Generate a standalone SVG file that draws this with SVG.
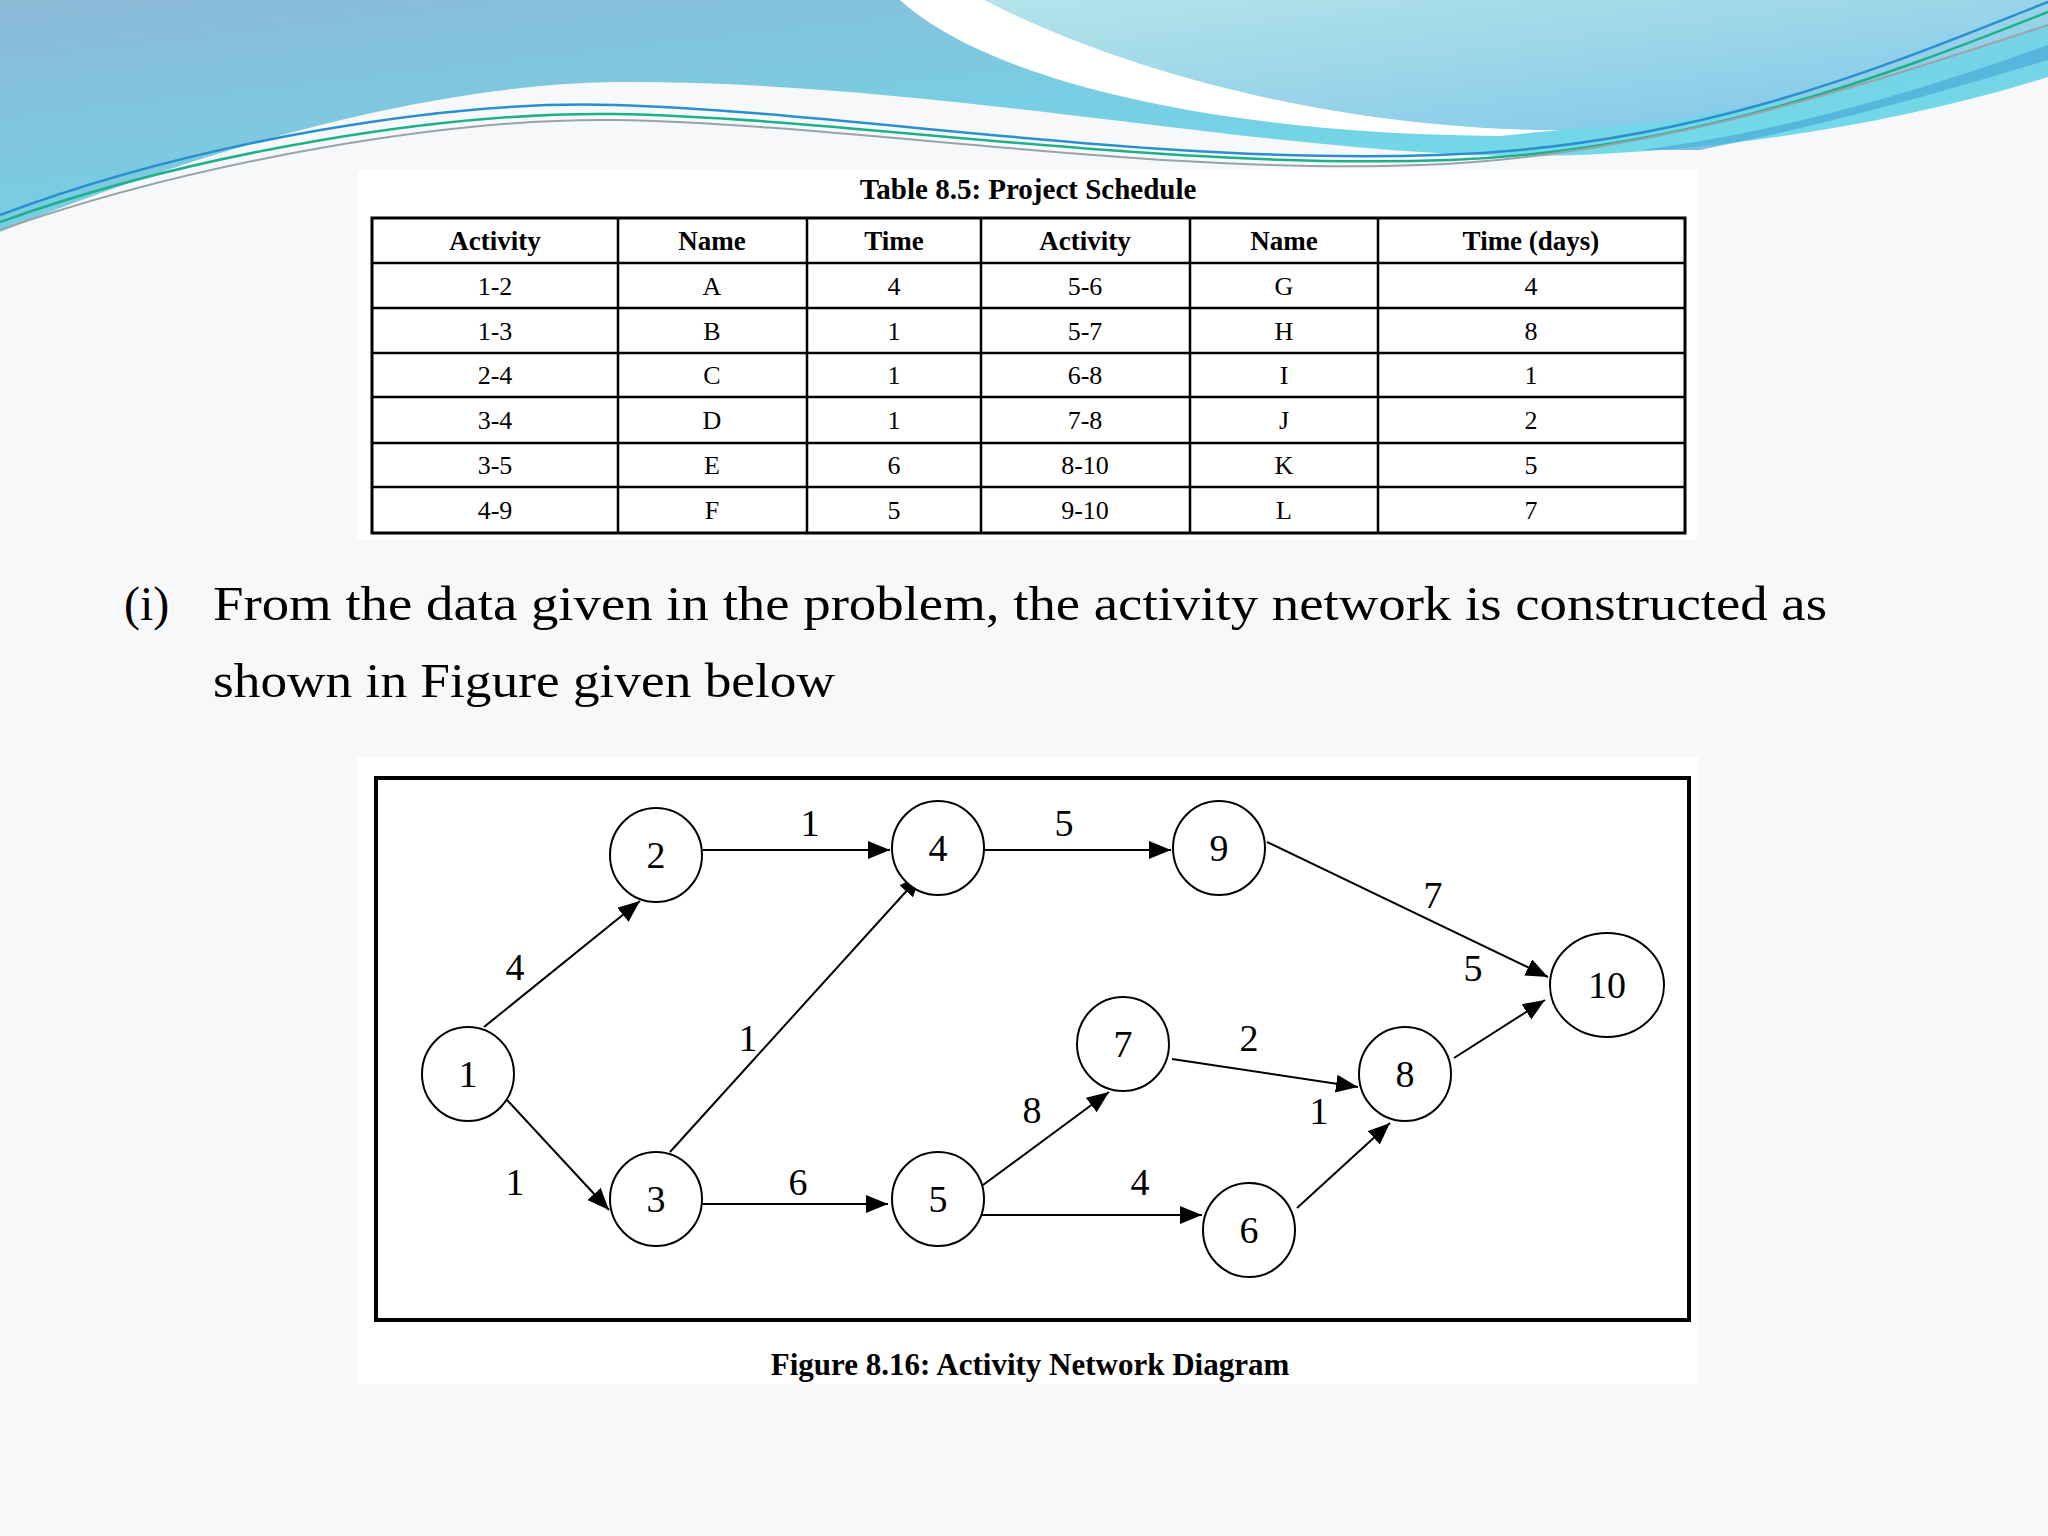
<svg xmlns="http://www.w3.org/2000/svg" width="2048" height="1536" viewBox="0 0 2048 1536">
<defs>
<linearGradient id="gb" x1="0" y1="0" x2="1" y2="1"><stop offset="0" stop-color="#8bb9d6"/><stop offset="0.6" stop-color="#74d3e6"/><stop offset="1" stop-color="#6ee6ee"/></linearGradient>
<linearGradient id="gl" x1="0" y1="0" x2="1" y2="1"><stop offset="0" stop-color="#b4e4ea"/><stop offset="1" stop-color="#7ec6e8"/></linearGradient>
<marker id="ah" markerUnits="userSpaceOnUse" markerWidth="24" markerHeight="20" refX="22" refY="9" orient="auto"><path d="M0,0 L22,9 L0,18 Z" fill="#000"/></marker>
</defs>
<style>
.t{font-family:"Liberation Serif",serif;fill:#000}
.c{font-size:26px;text-anchor:middle}
.h{font-size:27px;font-weight:bold;text-anchor:middle}
.n{fill:#fff;stroke:#000;stroke-width:2}
.nl{font-size:38px;text-anchor:middle;dominant-baseline:central}
.e{stroke:#000;stroke-width:2;fill:none;marker-end:url(#ah)}
.g{stroke:#000;stroke-width:2.5}
</style>
<rect width="2048" height="1536" fill="#f6f8f9"/>
<path d="M0,0 H2048 V77 C1850,140 1600,165 1437,153 C1200,140 900,80 614,82 C400,85 150,170 0,232 Z" fill="url(#gb)"/>
<path d="M900,0 C1000,90 1250,135 1500,136 L1560,130 C1300,125 1100,60 985,0 Z" fill="#ffffff"/>
<path d="M985,0 H2048 V25 C1900,80 1700,128 1540,130 C1300,125 1100,60 985,0 Z" fill="url(#gl)"/>
<path d="M2048,45 C1950,80 1800,130 1640,150 L1700,150 C1850,120 1980,80 2048,60 Z" fill="#4aa9d8" opacity="0.7"/>
<path d="M0,215 C200,140 450,100 614,105 C850,112 1150,165 1437,155 C1700,148 1900,60 2048,2" stroke="#2a8fcf" stroke-width="2.5" fill="none"/>
<path d="M0,222 C200,150 450,112 614,114 C850,118 1150,170 1450,160 C1700,150 1900,70 2048,12" stroke="#1fb08a" stroke-width="2.5" fill="none"/>
<path d="M0,230 C200,160 450,118 614,120 C850,124 1150,175 1420,165 C1650,158 1880,80 2048,25" stroke="#9aa3a8" stroke-width="2" fill="none"/>
<rect x="357" y="170" width="1340" height="370" fill="#fff"/>
<rect x="357" y="757" width="1341" height="627" fill="#fff"/>
<text class="t" x="1028" y="199" font-size="29" font-weight="bold" text-anchor="middle">Table 8.5: Project Schedule</text>
<g id="table">
<rect x="372" y="218" width="1313" height="315" fill="none" stroke="#000" stroke-width="3"/>
<line class="g" x1="372" y1="263" x2="1685" y2="263" stroke-width="5"/>
<line class="g" x1="372" y1="308" x2="1685" y2="308"/>
<line class="g" x1="372" y1="353" x2="1685" y2="353"/>
<line class="g" x1="372" y1="397" x2="1685" y2="397"/>
<line class="g" x1="372" y1="443" x2="1685" y2="443"/>
<line class="g" x1="372" y1="487" x2="1685" y2="487"/>
<line class="g" x1="618" y1="218" x2="618" y2="533"/>
<line class="g" x1="807" y1="218" x2="807" y2="533"/>
<line class="g" x1="981" y1="218" x2="981" y2="533"/>
<line class="g" x1="1190" y1="218" x2="1190" y2="533"/>
<line class="g" x1="1378" y1="218" x2="1378" y2="533"/>
<g class="t h"><text x="495" y="250">Activity</text><text x="712" y="250">Name</text><text x="894" y="250">Time</text><text x="1085" y="250">Activity</text><text x="1284" y="250">Name</text><text x="1531" y="250">Time (days)</text></g>
<g class="t c">
<text x="495" y="295">1-2</text><text x="712" y="295">A</text><text x="894" y="295">4</text><text x="1085" y="295">5-6</text><text x="1284" y="295">G</text><text x="1531" y="295">4</text>
<text x="495" y="340">1-3</text><text x="712" y="340">B</text><text x="894" y="340">1</text><text x="1085" y="340">5-7</text><text x="1284" y="340">H</text><text x="1531" y="340">8</text>
<text x="495" y="384">2-4</text><text x="712" y="384">C</text><text x="894" y="384">1</text><text x="1085" y="384">6-8</text><text x="1284" y="384">I</text><text x="1531" y="384">1</text>
<text x="495" y="429">3-4</text><text x="712" y="429">D</text><text x="894" y="429">1</text><text x="1085" y="429">7-8</text><text x="1284" y="429">J</text><text x="1531" y="429">2</text>
<text x="495" y="474">3-5</text><text x="712" y="474">E</text><text x="894" y="474">6</text><text x="1085" y="474">8-10</text><text x="1284" y="474">K</text><text x="1531" y="474">5</text>
<text x="495" y="519">4-9</text><text x="712" y="519">F</text><text x="894" y="519">5</text><text x="1085" y="519">9-10</text><text x="1284" y="519">L</text><text x="1531" y="519">7</text>
</g>
</g>
<g class="t" font-size="48">
<text x="124" y="620">(i)</text>
<text x="213" y="620" textLength="1614" lengthAdjust="spacingAndGlyphs">From the data given in the problem, the activity network is constructed as</text>
<text x="213" y="697" textLength="622" lengthAdjust="spacingAndGlyphs">shown in Figure given below</text>
</g>
<rect x="376" y="778" width="1313" height="542" fill="none" stroke="#000" stroke-width="4"/>
<g id="connectors">
<line class="e" x1="484" y1="1027" x2="640" y2="901"/>
<line class="e" x1="507" y1="1100" x2="609" y2="1210"/>
<line class="e" x1="703" y1="850" x2="890" y2="850"/>
<line class="e" x1="985" y1="850" x2="1171" y2="850"/>
<line class="e" x1="1267" y1="842" x2="1548" y2="977"/>
<line class="e" x1="1454" y1="1058" x2="1545" y2="1000"/>
<line class="e" x1="670" y1="1152" x2="921" y2="875"/>
<line class="e" x1="703" y1="1204" x2="888" y2="1204"/>
<line class="e" x1="983" y1="1185" x2="1109" y2="1092"/>
<line class="e" x1="982" y1="1215" x2="1202" y2="1215"/>
<line class="e" x1="1172" y1="1059" x2="1358" y2="1087"/>
<line class="e" x1="1297" y1="1208" x2="1390" y2="1123"/>
<g class="t nl" font-family="Liberation Serif, serif">
<text x="515" y="967">4</text><text x="515" y="1182">1</text><text x="810" y="823">1</text><text x="1064" y="823">5</text><text x="1433" y="895">7</text><text x="1473" y="968">5</text><text x="748" y="1038">1</text><text x="1032" y="1110">8</text><text x="1249" y="1038">2</text><text x="1319" y="1111">1</text><text x="798" y="1182">6</text><text x="1140" y="1182">4</text>
</g>
</g>
<g id="n1"><ellipse class="n" cx="468" cy="1074" rx="46" ry="47"/><text class="t nl" x="468" y="1074">1</text></g>
<g id="n2"><ellipse class="n" cx="656" cy="855" rx="46" ry="47"/><text class="t nl" x="656" y="855">2</text></g>
<g id="n3"><ellipse class="n" cx="656" cy="1199" rx="46" ry="47"/><text class="t nl" x="656" y="1199">3</text></g>
<g id="n4"><ellipse class="n" cx="938" cy="848" rx="46" ry="47"/><text class="t nl" x="938" y="848">4</text></g>
<g id="n5"><ellipse class="n" cx="938" cy="1199" rx="46" ry="47"/><text class="t nl" x="938" y="1199">5</text></g>
<g id="n6"><ellipse class="n" cx="1249" cy="1230" rx="46" ry="47"/><text class="t nl" x="1249" y="1230">6</text></g>
<g id="n7"><ellipse class="n" cx="1123" cy="1044" rx="46" ry="47"/><text class="t nl" x="1123" y="1044">7</text></g>
<g id="n8"><ellipse class="n" cx="1405" cy="1074" rx="46" ry="47"/><text class="t nl" x="1405" y="1074">8</text></g>
<g id="n9"><ellipse class="n" cx="1219" cy="848" rx="46" ry="47"/><text class="t nl" x="1219" y="848">9</text></g>
<g id="n10"><ellipse class="n" cx="1607" cy="985" rx="57" ry="52"/><text class="t nl" x="1607" y="985">10</text></g>
<text class="t" x="1030" y="1375" font-size="31" font-weight="bold" text-anchor="middle">Figure 8.16: Activity Network Diagram</text>
</svg>
